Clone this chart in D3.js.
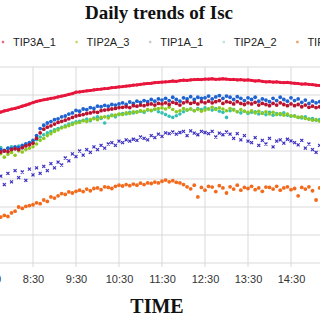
<!DOCTYPE html>
<html><head><meta charset="utf-8">
<script src="https://cdn.jsdelivr.net/npm/d3@7"></script>
<style>html,body{margin:0;padding:0;background:#fff;}svg{display:block;}</style>
</head><body>
<script>
// ---- data ----
const startMinute = 460;   // 7:40
const stepMinutes = 5;
const tickMinutes = [450, 510, 570, 630, 690, 750, 810, 870, 930];
const tickLabels = ["7:30","8:30","9:30","10:30","11:30","12:30","13:30","14:30","15:30"];
const yTicks = [0,1,2,3,4,5,6,7];

const tip3a1 = [5.36,5.39,5.43,5.46,5.50,5.52,5.56,5.60,5.64,5.68,5.73,
5.77,5.80,5.83,5.85,5.88,5.90,5.93,5.96,5.99,6.02,6.05,6.10,
6.11,6.13,6.15,6.16,6.18,6.20,6.21,6.23,6.24,6.26,6.27,6.29,
6.30,6.32,6.33,6.35,6.36,6.38,6.40,6.41,6.42,6.44,6.45,6.46,
6.47,6.48,6.50,6.49,6.51,6.53,6.52,6.54,6.55,6.56,6.55,6.57,
6.57,6.58,6.56,6.57,6.58,6.57,6.55,6.56,6.54,6.55,6.53,6.54,
6.52,6.50,6.51,6.49,6.47,6.48,6.46,6.47,6.45,6.44,6.45,6.43,
6.42,6.41,6.39,6.40,6.38,6.37,6.35,6.34,6.32];

const blueSeries = [3.98,4.05,4.02,4.10,4.08,4.15,4.12,4.20,4.25,4.30,4.38,
4.55,4.80,4.92,5.00,5.05,5.12,5.15,5.22,5.25,5.32,5.36,5.45,
5.42,5.50,5.48,5.55,5.52,5.60,5.58,5.63,5.60,5.66,5.64,5.68,
5.72,5.66,5.75,5.70,5.78,5.74,5.80,5.76,5.84,5.78,5.86,5.82,
5.88,5.80,5.92,5.84,5.78,5.90,5.86,5.94,5.84,5.92,5.88,5.90,
5.96,5.86,5.93,5.98,5.88,5.96,5.92,5.84,5.94,5.88,5.80,5.90,
5.84,5.92,5.78,5.86,5.82,5.76,5.88,5.80,5.92,5.84,5.78,5.90,
5.80,5.86,5.74,5.82,5.70,5.78,5.72,5.76,5.68];

const darkRedSeries = [3.92,3.96,4.00,3.98,4.05,4.08,4.05,4.12,4.18,4.22,4.28,
4.45,4.65,4.78,4.85,4.90,4.96,5.02,5.06,5.10,5.15,5.20,5.25,
5.28,5.30,5.34,5.36,5.40,5.38,5.44,5.46,5.48,5.50,5.52,5.55,
5.56,5.58,5.55,5.62,5.60,5.64,5.62,5.66,5.68,5.64,5.70,5.68,
5.72,5.66,5.74,5.70,5.64,5.72,5.76,5.70,5.74,5.68,5.76,5.72,
5.78,5.72,5.76,5.80,5.70,5.76,5.74,5.68,5.76,5.70,5.66,5.72,
5.68,5.74,5.64,5.70,5.66,5.62,5.70,5.64,5.72,5.66,5.62,5.68,
5.62,5.66,5.58,5.64,5.56,5.60,5.55,5.58,5.52];

const tip2a3 = [3.80,3.90,3.78,3.88,3.95,3.85,4.00,3.96,4.05,4.10,4.15,
4.25,4.38,4.45,4.55,4.62,4.70,4.75,4.82,4.86,4.90,4.95,5.00,
5.02,5.08,5.05,5.12,5.15,5.12,5.20,5.22,5.18,5.26,5.28,5.32,
5.30,5.36,5.34,5.40,5.38,5.44,5.42,5.48,5.45,5.50,5.52,5.54,
5.50,5.56,5.48,5.40,5.44,5.52,5.46,5.50,5.44,5.48,5.42,5.46,
5.50,5.56,5.48,5.54,5.50,5.44,5.52,5.46,5.40,5.48,5.42,5.38,
5.44,5.36,5.42,5.34,5.40,5.32,5.38,5.30,5.34,5.28,5.32,5.26,
5.24,5.20,5.22,5.16,5.14,5.10,5.12,5.06,5.05];

const tip2a2 = [4.05,4.12,4.00,4.10,4.15,4.08,4.18,4.12,4.22,4.25,4.30,
4.40,4.50,4.58,4.65,4.70,4.76,4.80,4.85,4.90,4.96,5.00,5.04,
5.06,5.10,5.14,5.08,5.18,5.22,5.16,5.00,5.24,5.28,5.22,5.30,
5.34,5.32,5.38,5.36,5.40,5.42,5.38,5.46,5.44,5.48,5.40,5.36,
5.30,5.24,5.20,5.26,5.32,5.40,5.46,5.50,5.44,5.52,5.48,5.54,
5.50,5.46,5.52,5.42,5.38,5.20,5.44,5.48,5.40,5.36,5.42,5.34,
5.38,5.40,5.32,5.36,5.30,5.38,5.28,5.34,5.30,5.36,5.28,5.24,
5.26,5.20,5.18,5.22,5.14,5.16,5.10,5.12,5.08];

const tip1a1 = [2.95,3.10,2.80,3.20,2.90,3.30,3.05,3.25,2.95,3.35,3.15,
3.40,3.20,3.45,3.30,3.55,3.40,3.60,3.50,3.75,3.65,3.90,3.80,
4.00,3.85,4.05,3.95,4.15,4.05,4.20,4.10,4.25,4.30,4.20,4.35,
4.30,4.40,4.35,4.42,4.38,4.50,4.45,4.40,4.55,4.48,4.60,4.52,
4.65,4.62,4.68,4.60,4.66,4.70,4.55,4.72,4.64,4.58,4.70,4.66,
4.62,4.70,4.50,4.64,4.58,4.68,4.60,4.45,4.62,4.40,4.55,4.35,
4.30,4.48,4.20,4.38,4.25,4.45,4.15,4.35,4.40,4.28,4.42,4.36,
4.30,4.22,4.38,4.10,4.25,4.05,3.95,4.20,4.10];

const orangeSeries = [1.58,1.64,1.70,1.66,1.79,1.85,2.00,1.95,2.02,2.05,2.08,
2.15,2.12,2.25,2.20,2.36,2.32,2.40,2.48,2.45,2.54,2.50,2.56,
2.60,2.55,2.64,2.58,2.66,2.68,2.62,2.72,2.70,2.66,2.74,2.78,
2.75,2.80,2.76,2.82,2.78,2.85,2.80,2.86,2.84,2.89,2.86,2.92,
2.96,2.90,2.94,2.88,2.86,2.80,2.72,2.65,2.78,2.36,2.70,2.60,
2.74,2.71,2.55,2.76,2.68,2.50,2.72,2.64,2.78,2.60,2.70,2.66,
2.74,2.62,2.68,2.56,2.71,2.70,2.64,2.74,2.60,2.68,2.72,2.62,
2.66,2.40,2.70,2.64,2.72,2.58,2.25,2.68,2.70];

const legendNames = ["TIP3A_1","TIP2A_3","TIP1A_1","TIP2A_2","TIP3A_3"];
const legendColors = ["#e86a86","#c8d870","#c9ccd6","#bfe3e0","#f0a060"];

// ---- chart ----
const W = 320, H = 320;
const svg = d3.select("body").append("svg").attr("width", W).attr("height", H);

const x = d3.scaleLinear().domain([450, 930]).range([-10, 334]);
const y = d3.scaleLinear().domain([0, 7]).range([263, 67]);

// grid
svg.append("g").selectAll("line").data(yTicks).join("line")
  .attr("x1", 0).attr("x2", W).attr("y1", d => y(d)).attr("y2", d => y(d))
  .attr("stroke", "#d9d9d9").attr("stroke-width", 1);
svg.append("g").selectAll("line").data(tickMinutes).join("line")
  .attr("x1", d => x(d)).attr("x2", d => x(d)).attr("y1", y(7)).attr("y2", y(0) + 4)
  .attr("stroke", "#d9d9d9").attr("stroke-width", 1);

// x axis labels
const xAxis = d3.axisBottom(x).tickValues(tickMinutes)
  .tickFormat((d, i) => tickLabels[i]).tickSize(0).tickPadding(12);
const gx = svg.append("g").attr("transform", `translate(0,${y(0)})`).call(xAxis);
gx.select(".domain").remove();
gx.selectAll("text").attr("font-family", "Liberation Sans, Arial, sans-serif")
  .attr("font-size", 11).attr("fill", "#333");

const toPts = arr => arr.map((v, i) => ({t: startMinute + i * stepMinutes, v}));

const plot = svg.append("g");

function dots(arr, color, r) {
  plot.append("g").selectAll("circle").data(toPts(arr)).join("circle")
    .attr("cx", d => x(d.t)).attr("cy", d => y(d.v)).attr("r", r).attr("fill", color);
}
function crosses(arr, color) {
  plot.append("g").selectAll("path").data(toPts(arr)).join("path")
    .attr("d", d => { const cx = x(d.t), cy = y(d.v), s = 1.5;
      return `M${cx-s},${cy-s}L${cx+s},${cy+s}M${cx-s},${cy+s}L${cx+s},${cy-s}`; })
    .attr("stroke", color).attr("stroke-width", 1.2).attr("fill", "none");
}

dots(orangeSeries, "#f26b1d", 1.9);
crosses(tip1a1, "#3b2fc0");
dots(tip2a2, "#35c0b4", 1.8);
dots(tip2a3, "#8cc820", 1.8);
dots(blueSeries, "#1f63d0", 1.9);
dots(darkRedSeries, "#b81430", 1.9);
plot.append("path").datum(toPts(tip3a1))
  .attr("d", d3.line().x(d => x(d.t)).y(d => y(d.v)))
  .attr("fill", "none").attr("stroke", "#e8163c").attr("stroke-width", 2.8);
dots(tip3a1, "#e8163c", 1.6);

// title
svg.append("text").attr("x", 159).attr("y", 19).attr("text-anchor", "middle")
  .attr("font-family", "Liberation Serif, Times New Roman, serif").attr("font-weight", "bold")
  .attr("font-size", 19).attr("fill", "#111").text("Daily trends of Isc");

// legend
const lg = svg.append("g").selectAll("g").data(legendNames).join("g")
  .attr("transform", (d, i) => `translate(${3 + i * 73.6},42)`);
lg.append("rect").attr("x", -1.2).attr("y", -1.2).attr("width", 2.4).attr("height", 2.4)
  .attr("fill", (d, i) => legendColors[i]);
lg.append("text").attr("x", 10).attr("y", 4)
  .attr("font-family", "Liberation Sans, Arial, sans-serif").attr("font-size", 11)
  .attr("fill", "#222").text(d => d);

// x title
svg.append("text").attr("x", 157).attr("y", 313).attr("text-anchor", "middle")
  .attr("font-family", "Liberation Serif, Times New Roman, serif").attr("font-weight", "bold")
  .attr("font-size", 20).attr("fill", "#111").text("TIME");
</script>
</body></html>
